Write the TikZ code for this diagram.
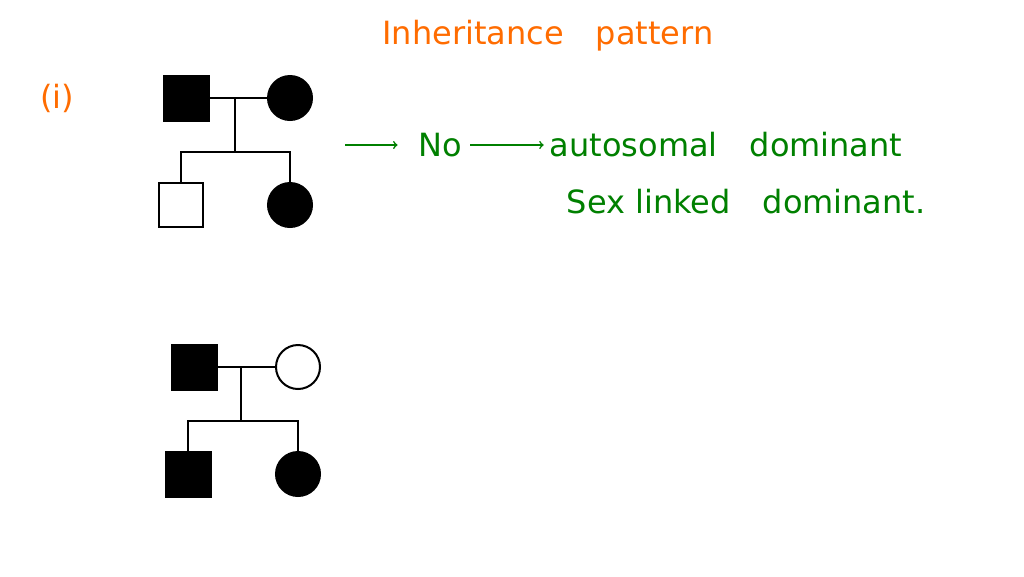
\documentclass[tikz,border=0pt]{standalone}
\usepackage{fontspec}
\setmainfont{DejaVu Sans}
\begin{document}
\begin{tikzpicture}[x=0.75pt,y=-0.75pt,
  ln/.style={line width=2pt,black},
  fil/.style={fill=black,draw=black,line width=1.5pt},
  emp/.style={fill=white,draw=black,line width=1.5pt},
  og/.style={text=orange!85!red,font=\fontsize{24}{28}\selectfont},
  gr/.style={text=green!50!black,font=\fontsize{24}{28}\selectfont},
  garr/.style={->,green!50!black,line width=1.2pt}]
\useasboundingbox (0,0) rectangle (1024,576);
\fill[white] (0,0) rectangle (1024,576);
\node[og] (title) at (548,36) {Inheritance\quad pattern};
\node[og] (lab) at (57,98) {(i)};
% pedigree 1
\node[fil,minimum size=45*0.75pt,inner sep=0] (f1) at (186,98) {};
\node[fil,circle,minimum size=44*0.75pt,inner sep=0] (m1) at (290,98) {};
\draw[ln] (f1) -- (m1);
\coordinate (c1) at (235,98);
\coordinate (d1) at (235,152);
\draw[ln] (c1) -- (d1);
\node[emp,minimum size=44*0.75pt,inner sep=0] (s1) at (181,205) {};
\node[fil,circle,minimum size=44*0.75pt,inner sep=0] (g1) at (290,205) {};
\draw[ln] (s1.north) |- (d1) -| (g1.north);
% pedigree 2
\node[fil,minimum size=45*0.75pt,inner sep=0] (f2) at (194,367) {};
\node[emp,circle,minimum size=44*0.75pt,inner sep=0] (m2) at (298,367) {};
\draw[ln] (f2) -- (m2);
\coordinate (c2) at (241,367);
\coordinate (d2) at (241,421);
\draw[ln] (c2) -- (d2);
\node[fil,minimum size=45*0.75pt,inner sep=0] (s2) at (188,474) {};
\node[fil,circle,minimum size=44*0.75pt,inner sep=0] (g2) at (298,474) {};
\draw[ln] (s2.north) |- (d2) -| (g2.north);
% text
\coordinate (a0) at (345,145);
\node[gr] (no) at (440,145) {No};
\node[gr,anchor=west] (ad) at (545,145) {autosomal\quad dominant};
\node[gr,anchor=west] (sl) at (562,202) {Sex linked\quad dominant.};
\draw[garr,shorten >=12pt] (a0) -- (no.west);
\draw[garr,shorten <=3pt,shorten >=1pt] (no.east) -- (ad.west);
\end{tikzpicture}
\end{document}
